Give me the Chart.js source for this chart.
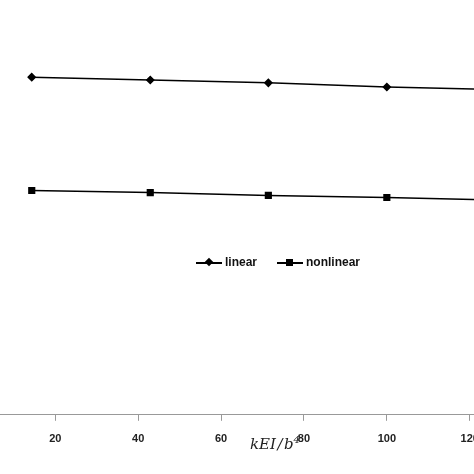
<!DOCTYPE html>
<html>
<head>
<script src="https://cdn.jsdelivr.net/npm/chart.js@4"></script>
<style>
body{margin:0;overflow:hidden;background:#fff;width:474px;height:474px;position:relative}
#wrap{position:absolute;left:-33px;top:0;width:560px;height:474px}
#legend{position:absolute;top:255px;left:196px;font:bold 12px Arial,"Liberation Sans",sans-serif;color:#111;display:flex;gap:20px}
#legend span.m{display:inline-block;position:relative;width:26px;height:2px;background:#000;vertical-align:middle;margin-right:3px}
#legend span.m i{position:absolute;left:9px;top:-3px;width:7px;height:7px;background:#000}
#legend span.d i{transform:rotate(45deg);width:6px;height:6px;left:10px}
#title{position:absolute;left:250px;top:434px;font:italic 15px "DejaVu Serif",serif;color:#222}
#title sup{font-size:10px}
</style>
</head>
<body>
<div id="wrap"><canvas id="c"></canvas></div>
<div id="legend"><div><span class="m d"><i></i></span>linear</div><div><span class="m"><i></i></span>nonlinear</div></div>
<div id="title">kEI&#8202;/&#8202;b<sup>4</sup></div>
<script>
const xValues = [14.3, 42.9, 71.4, 100, 128.6];
const linear = [0.825, 0.818, 0.811, 0.801, 0.794];
const nonlinear = [0.548, 0.543, 0.536, 0.531, 0.524];
const xTicks = [20, 40, 60, 80, 100, 120];

const pts = arr => arr.map((v, i) => ({x: xValues[i], y: v}));

new Chart(document.getElementById('c'), {
  type: 'line',
  data: {
    datasets: [
      {label: 'linear', data: pts(linear), borderColor: '#000', backgroundColor: '#000',
       borderWidth: 1.5, pointStyle: 'rectRot', pointRadius: 3.5, tension: 0},
      {label: 'nonlinear', data: pts(nonlinear), borderColor: '#000', backgroundColor: '#000',
       borderWidth: 1.5, pointStyle: 'rect', pointRadius: 4, tension: 0}
    ]
  },
  options: {
    responsive: true, maintainAspectRatio: false, animation: false,
    layout: {padding: {bottom: 16, top: 0, left: 0, right: 0}},
    plugins: {legend: {display: false}, tooltip: {enabled: false}},
    scales: {
      x: {
        type: 'linear', min: 0, max: 132.5,
        afterBuildTicks: s => { s.ticks = xTicks.map(v => ({value: v})); },
        grid: {drawOnChartArea: false, tickLength: 6, color: '#999'},
        border: {color: '#999'},
        ticks: {color: '#222', font: {size: 11, weight: 'bold', family: 'Arial'}, padding: 12}
      },
      y: {display: false, min: 0, max: 1}
    }
  }
});
</script>
</body>
</html>
